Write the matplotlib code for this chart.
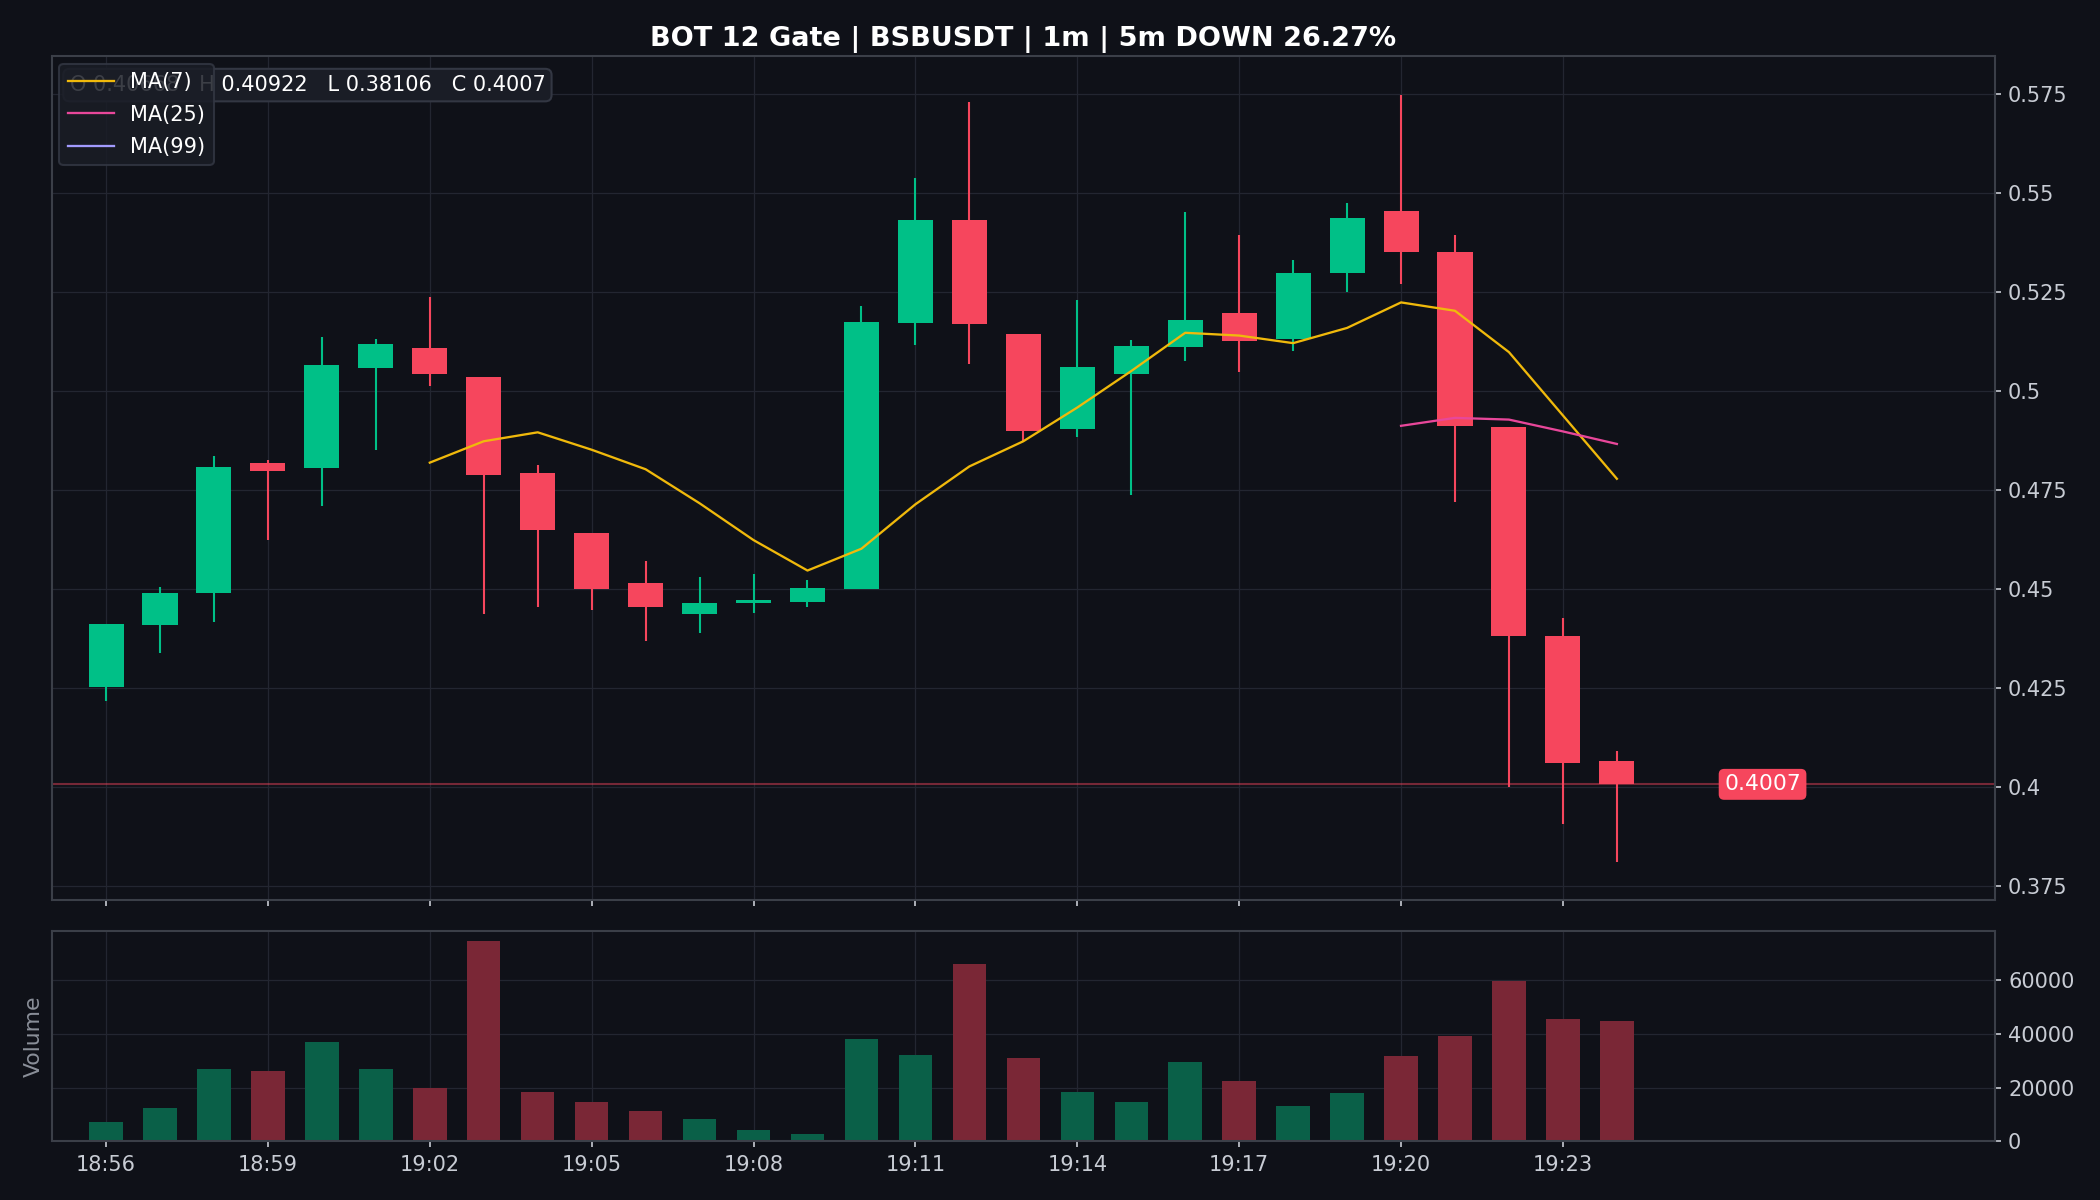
import matplotlib
matplotlib.use("Agg")
import matplotlib.pyplot as plt
import numpy as np
import pandas as pd

# 1m candles, 18:56 .. 19:24
times = ["18:56", "18:57", "18:58", "18:59", "19:00", "19:01", "19:02", "19:03",
         "19:04", "19:05", "19:06", "19:07", "19:08", "19:09", "19:10", "19:11",
         "19:12", "19:13", "19:14", "19:15", "19:16", "19:17", "19:18", "19:19",
         "19:20", "19:21", "19:22", "19:23", "19:24"]
opens = [0.4252, 0.4410, 0.4489, 0.4818, 0.4806, 0.5057, 0.5109, 0.5036,
         0.4794, 0.4641, 0.4516, 0.4436, 0.4466, 0.4468, 0.4500, 0.5171,
         0.5433, 0.5145, 0.4903, 0.5042, 0.5111, 0.5196, 0.5131, 0.5298,
         0.5455, 0.5351, 0.4910, 0.4382, 0.40668]
highs = [0.4413, 0.4505, 0.4836, 0.4826, 0.5137, 0.5131, 0.5238, 0.5036,
         0.4814, 0.4641, 0.4571, 0.4530, 0.4537, 0.4524, 0.5216, 0.5538,
         0.5731, 0.5145, 0.5230, 0.5128, 0.5451, 0.5395, 0.5332, 0.5476,
         0.5748, 0.5394, 0.4910, 0.4428, 0.40922]
lows = [0.4218, 0.4339, 0.4416, 0.4625, 0.4711, 0.4852, 0.5013, 0.4438,
        0.4456, 0.4446, 0.4370, 0.4388, 0.4440, 0.4455, 0.4500, 0.5116,
        0.5069, 0.4874, 0.4884, 0.4738, 0.5077, 0.5049, 0.5100, 0.5249,
        0.5270, 0.4720, 0.4000, 0.3907, 0.38106]
closes = [0.4411, 0.4490, 0.4808, 0.4799, 0.5066, 0.5119, 0.5042, 0.4789,
          0.4648, 0.4500, 0.4454, 0.4465, 0.4468, 0.4504, 0.5175, 0.5433,
          0.5169, 0.4899, 0.5061, 0.5113, 0.5180, 0.5126, 0.5299, 0.5438,
          0.5350, 0.4913, 0.4382, 0.4061, 0.4007]
volumes = [7300, 12500, 27000, 26300, 37100, 27000, 19700, 74600,
           18500, 14800, 11400, 8400, 4000, 2500, 38200, 32200,
           66100, 31100, 18500, 14800, 29600, 22600, 13300, 18100,
           31900, 39300, 59800, 45600, 44900]

title = "BOT 12 Gate | BSBUSDT | 1m | 5m DOWN 26.27%"
ohlc_text = "O 0.40668   H 0.40922   L 0.38106   C 0.4007"
last_price = 0.4007
price_ticks = [0.375, 0.4, 0.425, 0.45, 0.475, 0.5, 0.525, 0.55, 0.575]
vol_ticks = [0, 20000, 40000, 60000]

BG = "#0f1118"
UP = "#00c087"
DOWN = "#f6465d"
GRID = "#232631"
SPINE = "#3b3f48"
TXT = "#c8ccd4"

df = pd.DataFrame({"open": opens, "high": highs, "low": lows, "close": closes, "vol": volumes})
df["ma7"] = df["close"].rolling(7).mean()
df["ma25"] = df["close"].rolling(25).mean()
df["ma99"] = df["close"].rolling(99).mean()
x = np.arange(len(df))
up = df["close"] >= df["open"]
colors = np.where(up, UP, DOWN)

fig = plt.figure(figsize=(14, 8), dpi=150, facecolor=BG)
ax = fig.add_axes([0.0248, 0.25, 0.925, 0.703])
axv = fig.add_axes([0.0248, 0.049, 0.925, 0.175], sharex=ax)

for a in (ax, axv):
    a.set_facecolor(BG)
    for s in a.spines.values():
        s.set_color(SPINE)
        s.set_linewidth(1.0)
    a.grid(True, color=GRID, linewidth=0.6)
    a.set_axisbelow(True)
    a.yaxis.tick_right()
    a.tick_params(colors=TXT, labelsize=10, length=3, width=0.8)

# candles
ax.vlines(x, df["low"], df["high"], colors=colors, linewidth=1.0, zorder=2)
body_h = (df["close"] - df["open"]).abs().clip(lower=0.0006)
body_b = np.minimum(df["open"], df["close"])
ax.bar(x, body_h, bottom=body_b, width=0.65, color=colors, linewidth=0, zorder=3)

ax.plot(x, df["ma7"], color="#f0b90b", linewidth=1.1, label="MA(7)", zorder=4)
ax.plot(x, df["ma25"], color="#e8479a", linewidth=1.1, label="MA(25)", zorder=4)
ax.plot(x, df["ma99"], color="#a29bfe", linewidth=1.1, label="MA(99)", zorder=4)

ax.axhline(last_price, color=DOWN, alpha=0.45, linewidth=1.0, zorder=1)
ax.text(30.7, last_price, f"{last_price}", color="white", fontsize=10.5,
        ha="center", va="center", zorder=6,
        bbox=dict(boxstyle="round,pad=0.25", fc=DOWN, ec="none"))

ax.text(0.009, 0.966, ohlc_text, transform=ax.transAxes, color="white",
        fontsize=10, ha="left", va="center", zorder=5,
        bbox=dict(boxstyle="round,pad=0.3", fc="#1a1d26", ec="#333743", lw=1.0))
leg = ax.legend(loc="upper left", fontsize=10, frameon=True, facecolor="#1a1d26",
                edgecolor="#333743", framealpha=0.85, labelcolor="white",
                borderaxespad=0.35, handlelength=2.2, labelspacing=0.6)
leg.set_zorder(7)

ax.set_xlim(-1, 35)
ax.set_ylim(0.3715, 0.5845)
ax.set_yticks(price_ticks)
ax.set_yticklabels([f"{t:g}" for t in price_ticks])
ax.tick_params(axis="x", labelbottom=False)

# volume
vcolors = np.where(up, "#0a6048", "#7a2736")
axv.bar(x, df["vol"], width=0.62, color=vcolors, linewidth=0, zorder=2)
axv.set_ylim(0, df["vol"].max() * 1.05)
axv.set_yticks(vol_ticks)
axv.set_ylabel("Volume", color="#8a8f99", fontsize=10.5)
axv.yaxis.set_label_position("left")
tick_idx = x[::3]
axv.set_xticks(tick_idx)
axv.set_xticklabels([times[i] for i in tick_idx])
ax.set_xticks(tick_idx)

ax.set_title(title, color="white", fontsize=13, fontweight="bold", pad=5)

fig.savefig("out.png", facecolor=BG)
